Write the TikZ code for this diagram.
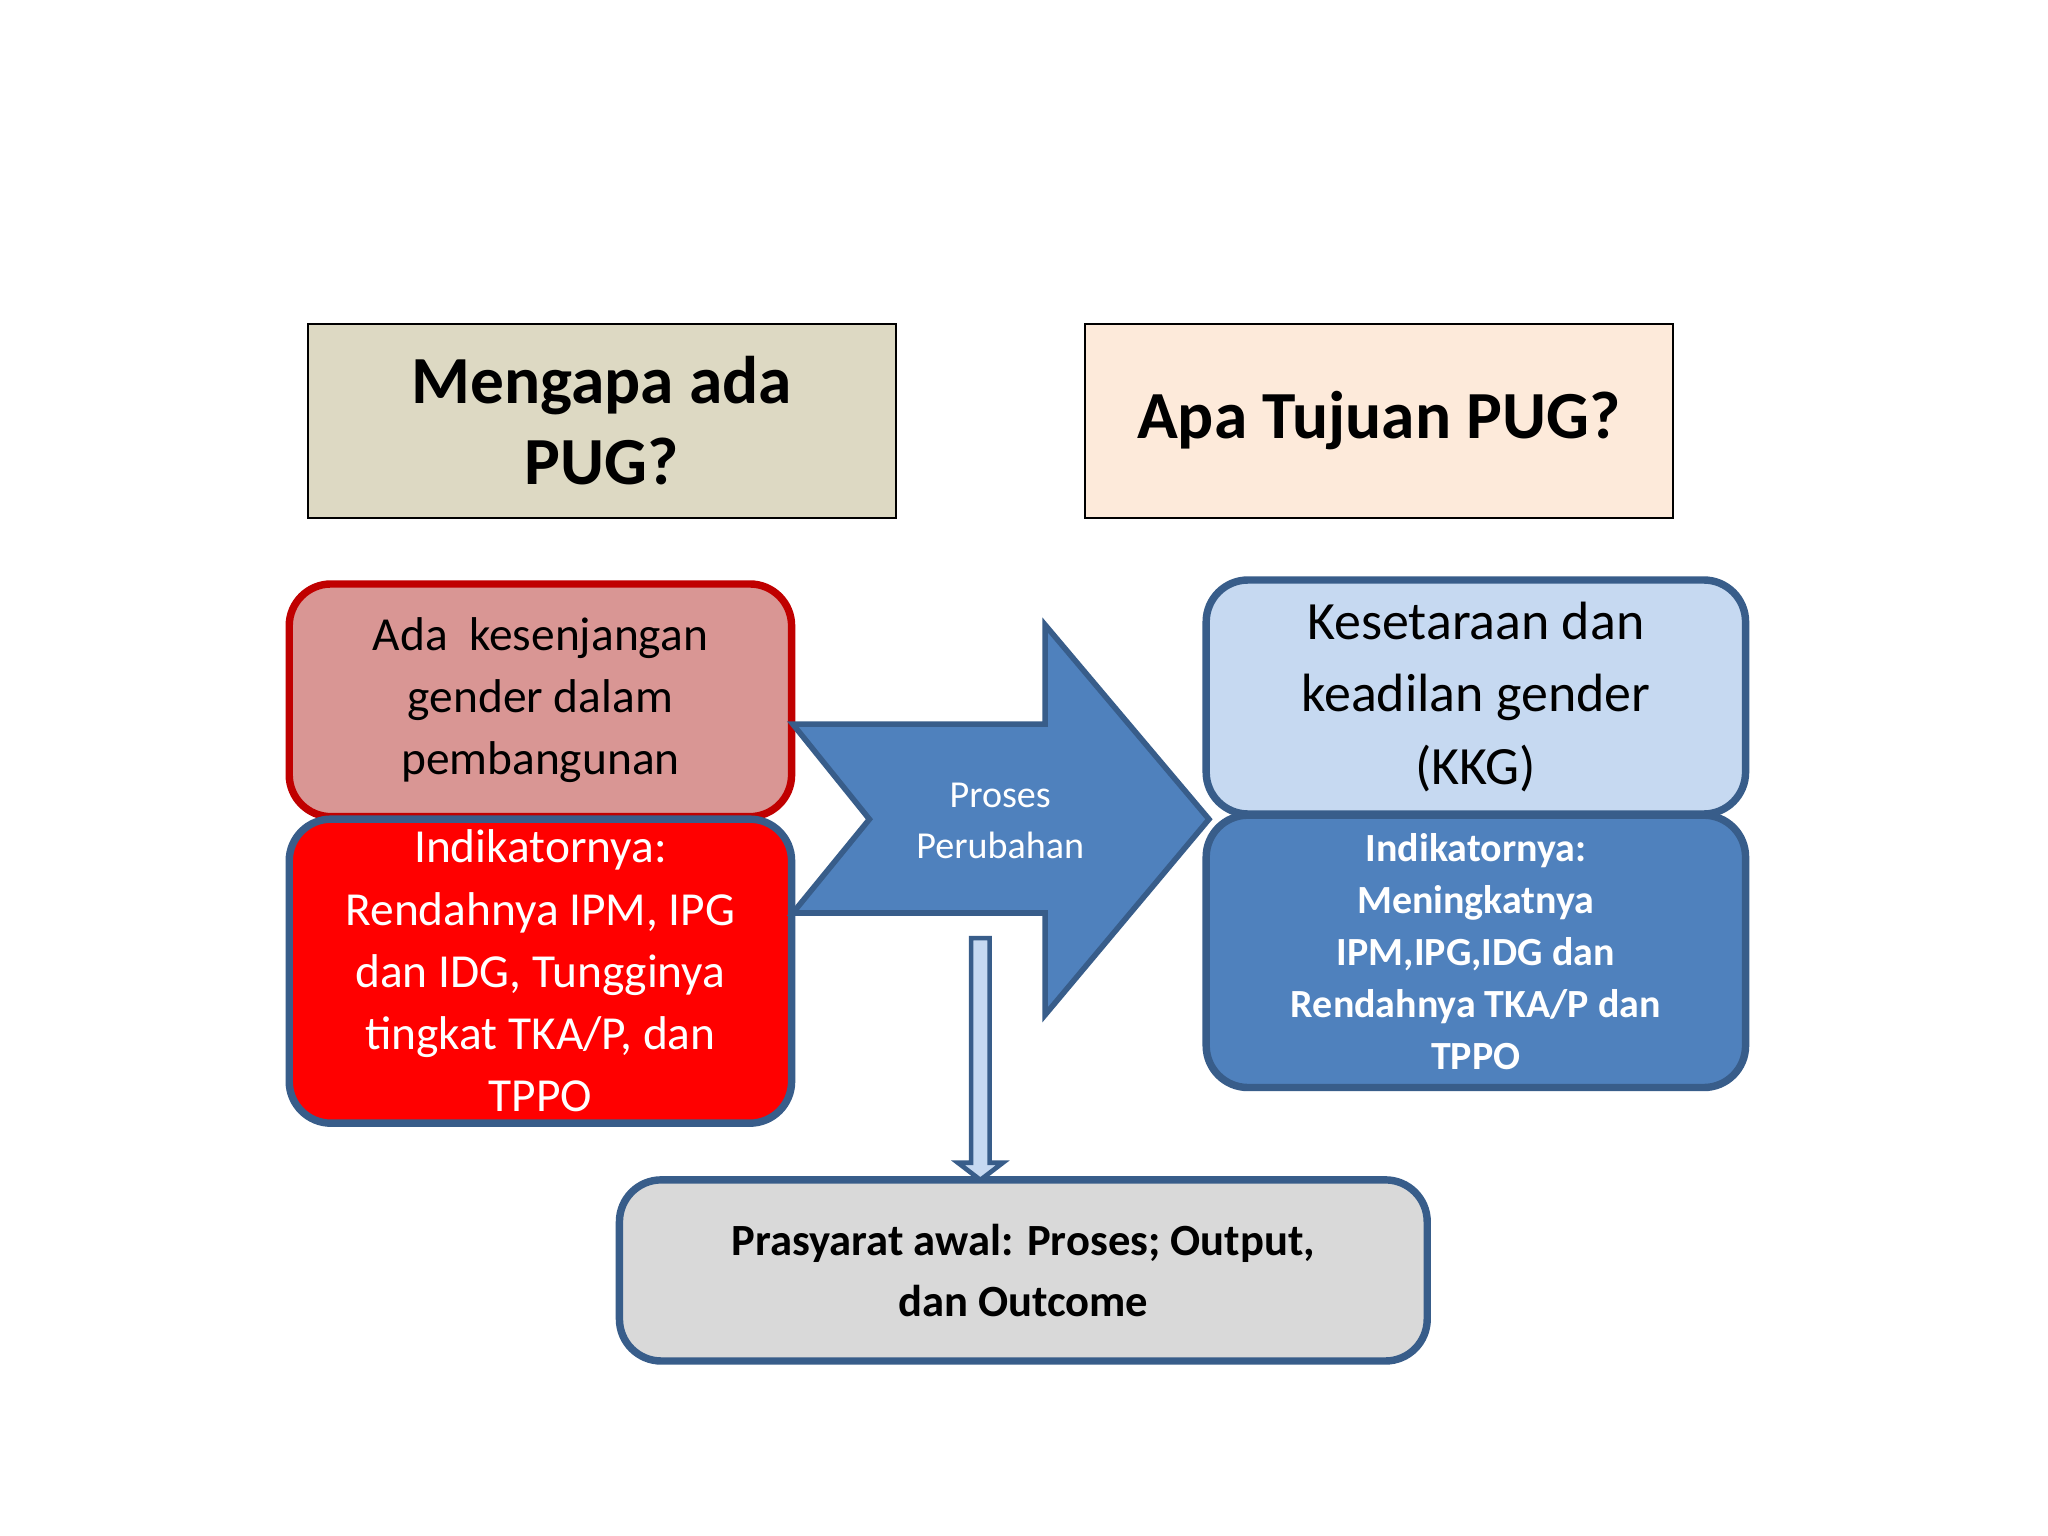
\documentclass[tikz,border=0pt]{standalone}
\usepackage{fontspec}
\setmainfont{Carlito}
\definecolor{khaki}{HTML}{DDD9C3}
\definecolor{peach}{HTML}{FDEADA}
\definecolor{pinkf}{HTML}{D99694}
\definecolor{darkred}{HTML}{C00000}
\definecolor{bluef}{HTML}{4F81BD}
\definecolor{blueb}{HTML}{385D8A}
\definecolor{lblue}{HTML}{C6D9F1}
\definecolor{greyf}{HTML}{D9D9D9}
\begin{document}
\begin{tikzpicture}[x=0.01cm,y=-0.01cm,
  title/.style={draw=black,line width=0.4pt,align=center,font=\bfseries\fontsize{14.5}{17.5}\selectfont,inner sep=0pt},
  rbox/.style={rounded corners=9pt,line width=1.6pt,align=center,inner sep=0pt}]
\useasboundingbox (0,0) rectangle (1550,1162);
\fill[white] (0,0) rectangle (1550,1162);
\node[title,fill=khaki,minimum width=445\pgflinewidth*0+4.45cm,minimum height=1.47cm] (t1) at (455.5,318.5) {Mengapa ada\\PUG?};
\node[title,fill=peach,minimum width=4.45cm,minimum height=1.47cm] (t2) at (1043.5,318.5) {Apa Tujuan PUG?};
\node[rbox,draw=darkred,fill=pinkf,minimum width=3.8cm,minimum height=1.76cm,font=\fontsize{10.2}{13.4}\selectfont] (a) at (409,530) {Ada\ \ kesenjangan\\gender dalam\\pembangunan};
\node[rbox,draw=blueb,fill=red,text=white,minimum width=3.8cm,minimum height=2.3cm,font=\fontsize{10.2}{13.4}\selectfont] (b) at (409,735) {Indikatornya:\\Rendahnya IPM, IPG\\dan IDG, Tungginya\\tingkat TKA/P, dan\\TPPO};
\draw[blueb,line width=1.2pt,fill=bluef] (600,548) -- (791,548) -- (791,473) -- (915,620) -- (791,768) -- (791,691) -- (600,691) -- (658,620) -- cycle;
\node[text=white,align=center,font=\fontsize{8.2}{11}\selectfont] (pp) at (757,621) {Proses\\Perubahan};
\node[rbox,draw=blueb,fill=lblue,minimum width=4.08cm,minimum height=1.77cm,font=\fontsize{11.6}{15.6}\selectfont] (c) at (1117,527.5) {Kesetaraan dan\\keadilan gender\\(KKG)};
\node[rbox,draw=blueb,fill=bluef,text=white,minimum width=4.08cm,minimum height=2.06cm,font=\bfseries\fontsize{8.6}{11.2}\selectfont] (d) at (1117,720) {Indikatornya:\\Meningkatnya\\IPM,IPG,IDG dan\\Rendahnya TKA/P dan\\TPPO};
\node[rbox,draw=blueb,fill=greyf,minimum width=6.11cm,minimum height=1.37cm,font=\bfseries\fontsize{9.6}{13.2}\selectfont] (e) at (774.5,961.5) {Prasyarat awal: Proses; Output,\\dan Outcome};
\coordinate (s) at (742,710);
\draw[blueb,line width=1pt,fill=lblue] (735,710) -- (749,710) -- (749,880) -- (759,880) -- (742,893) -- (725,880) -- (735,880) -- cycle;
\end{tikzpicture}
\end{document}
